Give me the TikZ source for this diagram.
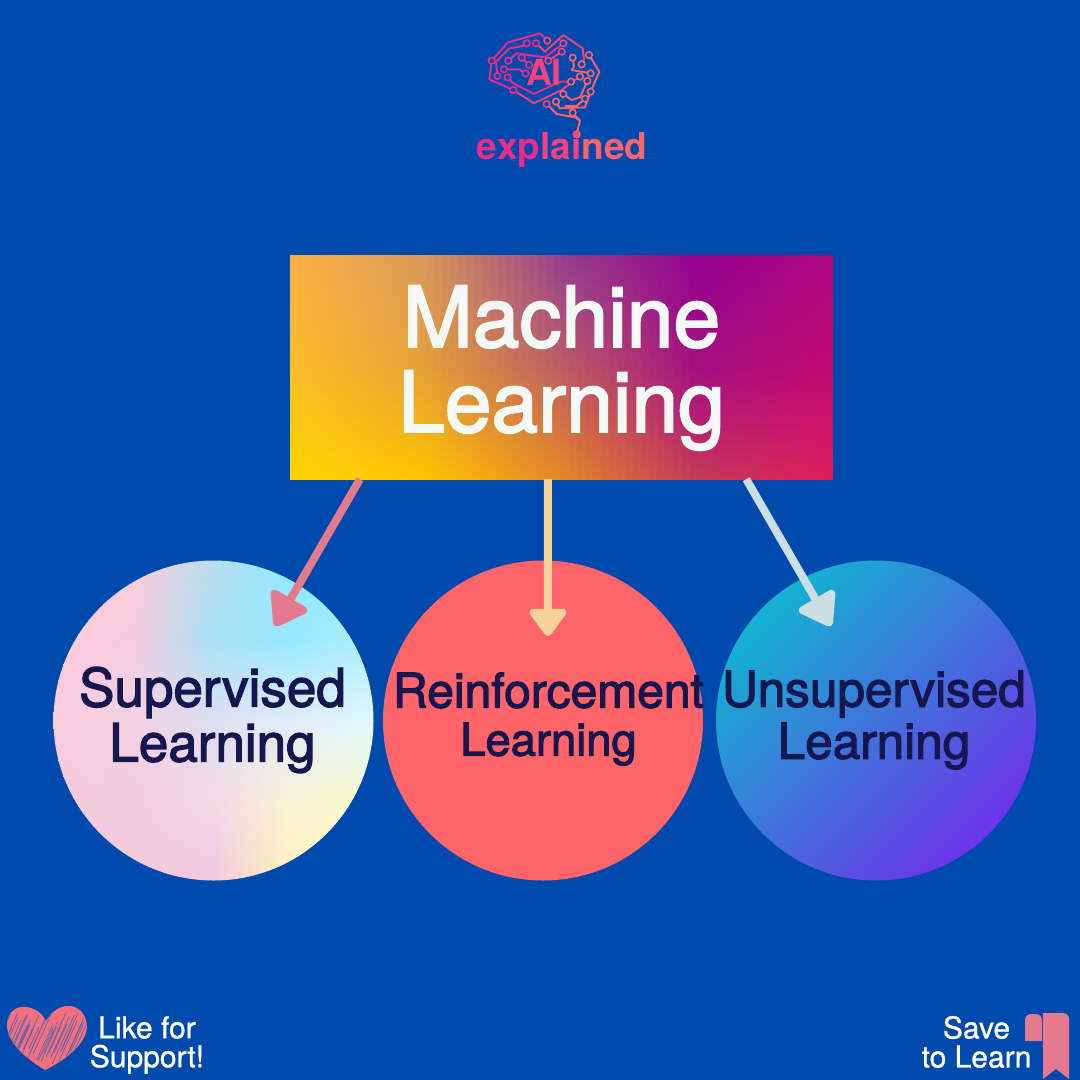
\documentclass[tikz,border=0pt]{standalone}
\usepackage{fontspec}
\setmainfont{TeX Gyre Heros}
\newfontfamily\medfont[FakeBold=2.4]{TeX Gyre Heros}
\newfontfamily\smallmed[FakeBold=1.0]{TeX Gyre Heros}
\usetikzlibrary{arrows.meta,calc}
\definecolor{bgblue}{HTML}{004AAD}
\definecolor{ink}{HTML}{17174F}
\definecolor{titlewhite}{HTML}{F5F9F5}
\definecolor{arrowpink}{HTML}{E57A8E}
\definecolor{arrowsand}{HTML}{F6D29B}
\definecolor{arrowmist}{HTML}{CBDFE2}
\definecolor{coral}{HTML}{FF6469}
\definecolor{logoa}{HTML}{EE2A88}
\definecolor{logob}{HTML}{F7407C}
\definecolor{logoc}{HTML}{FF6268}
\definecolor{unsA}{HTML}{14B2D0}
\definecolor{unsB}{HTML}{6C34E8}
\definecolor{heartpink}{HTML}{F4707F}
\definecolor{hatch}{HTML}{5A64A8}
% 5x5 colour grids, bilinearly interpolated
\newcommand{\gridrow}[7]{%
  \definecolor{#1c0r#2}{HTML}{#3}\definecolor{#1c1r#2}{HTML}{#4}\definecolor{#1c2r#2}{HTML}{#5}%
  \definecolor{#1c3r#2}{HTML}{#6}\definecolor{#1c4r#2}{HTML}{#7}}
\gridrow{bx}{0}{FDB044}{D89958}{93408A}{95028E}{AE0680}
\gridrow{bx}{1}{FDB738}{DE9C4C}{A94F80}{9A0888}{B50878}
\gridrow{bx}{2}{FDBE28}{E4A038}{BC5E62}{A41080}{C00A70}
\gridrow{bx}{3}{FECA15}{F0B01C}{D27245}{B42070}{D01268}
\gridrow{bx}{4}{FFD505}{FFC400}{E48828}{C23B58}{DF1B5B}
\gridrow{sp}{0}{FFCADB}{FFCBDB}{B8DEEE}{92E8FF}{92E8FF}
\gridrow{sp}{1}{FFCADB}{F4CDDE}{A8E2F5}{98E9FF}{B0EFFF}
\gridrow{sp}{2}{F9CCDD}{F1D1E2}{DDDFF1}{E3ECFC}{DFF8FE}
\gridrow{sp}{3}{F4CCDE}{F3CCDE}{F3DAE5}{F8F4D8}{FFFCCD}
\gridrow{sp}{4}{F2CADE}{F2C8DE}{F2C8DE}{FFF5B8}{FFFCC8}
% #1 grid, #2 strip count, #3 width, #4 height
\newcommand{\gridfill}[4]{%
 \foreach \i in {1,...,#2}{%
  \pgfmathsetmacro\pp{(\i-0.5)/#2*4}%
  \pgfmathtruncatemacro\ca{min(floor(\pp),3)}%
  \pgfmathtruncatemacro\cb{\ca+1}%
  \pgfmathtruncatemacro\pct{round((\pp-\ca)*100)}%
  \colorlet{gsa}{#1c\cb r0!\pct!#1c\ca r0}%
  \colorlet{gsb}{#1c\cb r1!\pct!#1c\ca r1}%
  \colorlet{gsc}{#1c\cb r2!\pct!#1c\ca r2}%
  \colorlet{gsd}{#1c\cb r3!\pct!#1c\ca r3}%
  \colorlet{gse}{#1c\cb r4!\pct!#1c\ca r4}%
  \pgfdeclareverticalshading{gs#1\i}{100bp}{color(0bp)=(gse);color(25bp)=(gse);color(37.5bp)=(gsd);color(50bp)=(gsc);color(62.5bp)=(gsb);color(75bp)=(gsa);color(100bp)=(gsa)}%
  \pgfmathsetmacro\xa{-#3/2+(\i-1)/#2*#3}%
  \pgfmathsetmacro\xb{\xa+#3/#2+0.7}%
  \shade[shading=gs#1\i] (\xa,-#4/2) rectangle (\xb,#4/2);
 }}
\tikzset{
  x=1pt,y=-1pt,
  ball/.style={circle,minimum size=320pt,inner sep=0pt,line width=0pt},
  balltext/.style={text=ink,align=center,inner sep=0pt},
  connector/.style={line width=8pt},
  logoline/.style={line width=1.9pt,line join=round},
  logodot/.style={circle,draw,line width=1.6pt,inner sep=0pt,minimum size=6.5pt,fill=bgblue},
  foot/.style={text=white,align=center,inner sep=0pt,font=\smallmed\fontsize{30}{29}\selectfont},
}
\begin{document}
\begin{tikzpicture}
\useasboundingbox (0,0) rectangle (1080,1080);
\fill[bgblue] (0,0) rectangle (1080,1080);
% logo
\begin{scope}[shift={(460,20)},x=0.3333pt,y=-0.3333pt]
 \draw[logoline,logoa] (95,122) -- (143,68) -- (240,40) -- (262,62);
 \draw[logoline,logoa] (95,122) -- (88,178) -- (160,210);
 \draw[logoline,logoa] (112,168) -- (108,125) -- (148,85) -- (190,78) -- (200,70);
 \draw[logoline,logoa] (145,122) -- (170,100) -- (255,112) -- (310,70);
 \draw[logoline,logob] (228,70) -- (255,95) -- (310,45) -- (368,85) -- (372,118) -- (365,133);
 \draw[logoline,logob] (305,95) -- (265,122);
 \draw[logoline,logoa] (185,113) -- (207,135);
 \draw[logoline,logoa] (132,148) -- (178,148) -- (197,160);
 \draw[logoline,logoa] (143,172) -- (160,190) -- (222,222) -- (300,185) -- (333,185);
 \draw[logoline,logob] (160,210) -- (222,250) -- (305,210) -- (345,180) -- (360,170);
 \draw[logoline,logoc] (338,113) -- (342,140) -- (335,150) -- (392,160);
 \draw[logoline,logoc] (387,105) -- (418,155) -- (392,215) -- (375,262) -- (300,265) -- (288,245);
 \draw[logoline,logoc] (382,183) -- (360,232) -- (335,240) -- (310,222);
 \draw[logoline,logoc] (375,236) -- (350,258) -- (315,258);
 \draw[logoline,logoc] (260,252) -- (290,282) -- (345,292) -- (360,302) -- (350,343);
 \draw[logoline,logoc] (338,278) -- (360,302);
 \foreach \px/\py/\c in {95/122/logoa,200/70/logoa,262/62/logob,228/70/logoa,310/70/logob,145/122/logoa,305/95/logob,265/122/logob,185/113/logoa,207/135/logoa,132/148/logoa,197/160/logoa,112/168/logoa,143/172/logoa,160/210/logoa,333/185/logoc,360/170/logoc,365/133/logoc,338/113/logoc,392/160/logoc,387/105/logoc,382/183/logoc,392/215/logoc,375/236/logoc,310/222/logoc,288/245/logoc,260/252/logob,338/278/logoc,350/343/logoc}
   \node[logodot,draw=\c] at (\px,\py) {};
\end{scope}
\node[inner sep=0pt,text=logob,anchor=base,font=\bfseries\fontsize{36}{36}\selectfont] (logoai) at (544,85) {AI};
\node[inner sep=0pt,anchor=base,font=\bfseries\fontsize{37}{37}\selectfont] (logoword) at (562,159) {\textcolor{logoa}{e}\textcolor{logoa}{x}\textcolor{logoa}{p}\textcolor{logob}{l}\textcolor{logob}{a}\textcolor{logob}{i}\textcolor{logoc}{n}\textcolor{logoc}{e}\textcolor{logoc}{d}};
% main box
\node[minimum width=543pt,minimum height=224pt,inner sep=0pt,
  path picture={\gridfill{bx}{68}{543}{224}}] (ml) at (561.5,367) {};
\node[text=titlewhite,align=center,inner sep=0pt,font=\medfont\fontsize{84}{85}\selectfont] (mltext) at (561.5,368) {Machine\\Learning};
% circles
\node[ball,path picture={\gridfill{sp}{64}{320}{320}}] (sup) at (213.5,720.5) {};
\node[ball,fill=coral] (rein) at (543,720.5) {};
\node[ball,left color=unsA,right color=unsB,shading angle=45] (unsup) at (876,720.5) {};
\node[balltext,font=\medfont\fontsize{53}{55}\selectfont] (suptext) at (212.5,720) {Supervised\\Learning};
\node[balltext,font=\medfont\fontsize{48}{48}\selectfont] (reintext) at (548.5,719) {Reinforcement\\{\fontsize{45.3}{48}\selectfont Learning}};
\node[balltext,font=\medfont\fontsize{49.5}{52}\selectfont] (unsuptext) at (874,720) {Unsupervised\\Learning};
% connectors
\coordinate (tipa) at (275,626);
\coordinate (tipb) at (548,636);
\coordinate (tipc) at (831,626);
\draw[connector,arrowpink,-{Triangle[length=35pt,width=46pt,round]}] ($(ml.south west)!0.129!(ml.south east)$) -- (tipa);
\draw[connector,arrowsand,-{Triangle[length=30pt,width=42pt,round]}] ($(ml.south west)!0.475!(ml.south east)$) -- (tipb);
\draw[connector,arrowmist,-{Triangle[length=35pt,width=46pt,round]}] ($(ml.south west)!0.84!(ml.south east)$) -- (tipc);
% heart
\begin{scope}
 \clip (45,1070) .. controls (25,1058) and (7,1042) .. (7,1025) .. controls (7,1012) and (16,1006) .. (26,1007) .. controls (35,1008) and (42,1013) .. (46,1021) .. controls (51,1012) and (60,1005) .. (70,1006) .. controls (80,1007) and (87,1016) .. (87,1027) .. controls (86,1044) and (66,1060) .. (45,1070) -- cycle;
 \fill[heartpink] (0,1000) rectangle (95,1075);
 \pgfmathsetseed{7}
 \foreach \i in {0,...,42}{
   \pgfmathsetmacro\ya{1064-16*rnd}
   \pgfmathsetmacro\yb{1012+16*rnd}
   \pgfmathsetmacro\sx{-6+\i*2.4+2*rnd}
   \pgfmathsetmacro\ex{\sx+(\ya-\yb)*0.45}
   \draw[line width=0.7pt,hatch] (\sx,\ya) -- (\ex,\yb);
 }
\end{scope}
\node[foot] (like) at (147,1045) {Like for\\Support!};
% bookmark
\fill[arrowpink,rounded corners=6pt] (1025,1041) -- (1025,1014) -- (1042,1014) [sharp corners] -- (1042,1041) -- cycle;
\fill[arrowpink] (1043,1079) -- (1043,1013) -- (1063,1013) to[out=0,in=90] (1069,1019) -- (1069,1079) -- (1056,1069) -- cycle;
\node[foot] (save) at (976.5,1042) {Save\\to Learn};
\end{tikzpicture}
\end{document}
